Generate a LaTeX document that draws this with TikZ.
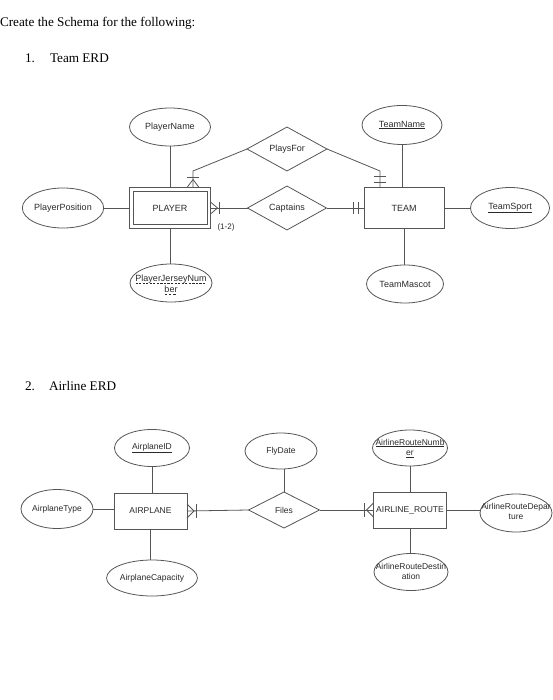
\documentclass[tikz,border=0pt]{standalone}
\usepackage{fontspec}
\setmainfont{Liberation Serif}
\newfontfamily\dfont{Liberation Sans}
\usetikzlibrary{shapes.geometric,calc}
\definecolor{ln}{HTML}{555555}
\definecolor{tx}{HTML}{2a2a2a}
\newcommand\dashul[1]{\setbox0=\hbox{#1}\leavevmode\rlap{\smash{\lower1.8pt\hbox to\wd0{\xleaders\hbox to 3.5pt{\vrule height .6pt width 2.2pt\hfil}\hfill}}}\copy0}
\newcommand\twol[3][2.2pt]{\makebox[0pt]{\smash{\raisebox{-#1}{\begin{tabular}{@{}c@{}}#2\\#3\end{tabular}}}}}
\begin{document}
\begin{tikzpicture}[x=1pt,y=-1pt,
  every node/.style={inner sep=0pt, outer sep=0pt},
  fa/.style={font=\dfont\fontsize{9}{11}\selectfont, text=tx},
  fb/.style={font=\dfont\fontsize{8.5}{10.5}\selectfont, text=tx},
  attr/.style={ellipse, draw=ln, line width=0.8pt, align=center},
  ent/.style={rectangle, draw=ln, line width=0.8pt},
  rel/.style={diamond, draw=ln, line width=0.8pt},
  conn/.style={draw=ln, line width=0.8pt},
  head/.style={font=\fontsize{13.2}{15}\selectfont, anchor=base west, text=black},
  sz/.style 2 args={minimum width=#1pt, minimum height=#2pt}
]
\useasboundingbox (0,0) rectangle (552,700);

% headings
\node[head] (title) at (0,27) {Create the Schema for the following:};
\node[head] (n1) at (25,63) {1.};
\node[head] (t1) at (50,63) {Team ERD};
\node[head] (n2) at (25,390) {2.};
\node[head] (t2) at (49,390) {Airline ERD};

% ---------- Team ERD ----------
\node[ent, sz={81}{41}] (player) at (170,208) {};
\node[ent, fa, sz={74}{33}] (playerin) at (170,208) {PLAYER};
\node[attr, fa, sz={81}{38}] (pname) at (170,127) {PlayerName};
\node[attr, fa, sz={80}{40}] (ppos) at (63,208) {PlayerPosition};
\node[attr, fa, sz={82}{38}] (pjer) at (171,283) {\twol[4.5pt]{\dashul{PlayerJerseyNum}}{\dashul{ber}}};
\node[rel, fa, sz={80}{38}] (pf) at (287,149) {PlaysFor};
\node[rel, fa, sz={79}{40}] (cap) at (287,208) {Captains};
\node[ent, fa, sz={80}{41}] (team) at (404,208) {TEAM};
\node[attr, fa, sz={80}{39}] (tname) at (402,125) {\underline{TeamName}};
\node[attr, fa, sz={79}{41}] (tsport) at (510,208) {\underline{TeamSport}};
\node[attr, fa, sz={77}{38}] (tmascot) at (405,284) {TeamMascot};
\node[fa, font=\dfont\fontsize{8}{9}\selectfont] (card) at (226,227) {(1-2)};

\draw[conn] (ppos.east) -- (player.west);
\draw[conn] (pname.south) -- (pname.south |- player.north);
\draw[conn] (player.south) -- (player.south |- pjer.north);
\coordinate (pk) at (193,171);
\draw[conn] (pf.west) -- (pk) -- (pk |- player.north);
\coordinate (c1) at (pk |- player.north);
\draw[conn] ($(c1)+(-6,0)$) -- ($(c1)+(0,-8)$) -- ($(c1)+(6,0)$);
\draw[conn] ($(c1)+(-6,-10)$) -- ($(c1)+(6,-10)$);
\coordinate (tk) at (380,171);
\draw[conn] (pf.east) -- (tk) -- (tk |- team.north);
\coordinate (c2) at (tk |- team.north);
\draw[conn] ($(c2)+(-6,-11)$) -- ($(c2)+(6,-11)$);
\draw[conn] ($(c2)+(-6,-5)$) -- ($(c2)+(6,-5)$);
\draw[conn] (player.east) -- (cap.west);
\draw[conn] ($(player.east)+(0,-6)$) -- ($(player.east)+(7,0)$) -- ($(player.east)+(0,6)$);
\draw[conn] ($(player.east)+(9,-6)$) -- ($(player.east)+(9,6)$);
\draw[conn] (cap.east) -- (team.west);
\draw[conn] ($(team.west)+(-11,-6)$) -- ($(team.west)+(-11,6)$);
\draw[conn] ($(team.west)+(-6,-6)$) -- ($(team.west)+(-6,6)$);
\draw[conn] (tname.south) -- (tname.south |- team.north);
\draw[conn] (team.east) -- (tsport.west);
\draw[conn] (team.south) -- (team.south |- tmascot.north);

% ---------- Airline ERD ----------
\node[ent, fb, sz={73}{36}] (aplane) at (150.5,511) {AIRPLANE};
\node[attr, fb, sz={75}{37}] (aid) at (152,448) {\underline{AirplaneID}};
\node[attr, fb, sz={72}{39}] (atype) at (57,509) {AirplaneType};
\node[attr, fb, sz={73}{36}] (acap) at (152,578) {AirplaneCapacity};
\node[rel, fb, sz={71}{36}] (files) at (284,510) {Files};
\node[attr, fb, sz={72}{36}] (fdate) at (281,451) {FlyDate};
\node[ent, fb, sz={73}{36}] (route) at (410,510) {AIRLINE\_ROUTE};
\node[attr, fb, sz={75}{36}] (rnum) at (410,448) {\twol[2.2pt]{\underline{AirlineRouteNumb}}{\underline{er}}};
\node[attr, fb, sz={72}{38}] (rdep) at (516,513) {\twol[1.5pt]{AirlineRouteDepar}{ture}};
\node[attr, fb, sz={74}{37}] (rdest) at (411,572) {\twol[2.2pt]{AirlineRouteDestin}{ation}};

\draw[conn] (atype.east) -- (atype.east -| aplane.west);
\draw[conn] (aid.south) -- (aid.south |- aplane.north);
\draw[conn] (aplane.south) -- (aplane.south |- acap.north);
\draw[conn] (aplane.east) -- (files.west);
\draw[conn] ($(aplane.east)+(0,-7)$) -- ($(aplane.east)+(7,0)$) -- ($(aplane.east)+(0,7)$);
\draw[conn] ($(aplane.east)+(9,-7)$) -- ($(aplane.east)+(9,7)$);
\draw[conn] (files.north |- fdate.south) -- (files.north);
\draw[conn] (files.east) -- (route.west);
\draw[conn] ($(route.west)+(0,-7)$) -- ($(route.west)+(-7,0)$) -- ($(route.west)+(0,7)$);
\draw[conn] ($(route.west)+(-9,-7)$) -- ($(route.west)+(-9,7)$);
\draw[conn] (rnum.south) -- (route.north);
\draw[conn] (route.east) -- (route.east -| rdep.west);
\draw[conn] (route.south) -- (route.south |- rdest.north);
\end{tikzpicture}
\end{document}
